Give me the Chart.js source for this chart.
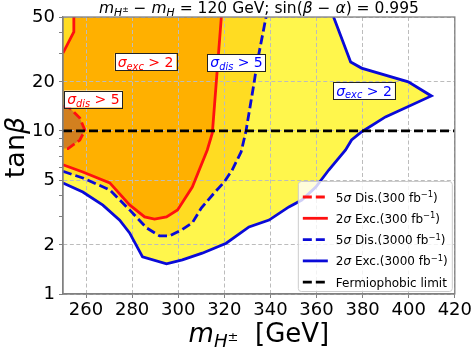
<!DOCTYPE html>
<html>
<head>
<meta charset="utf-8">
<script src="https://cdn.jsdelivr.net/npm/chart.js@4/dist/chart.umd.min.js"></script>
<style>
  html, body { margin: 0; padding: 0; background: #fff; }
  canvas { display: block; }
</style>
</head>
<body>
<canvas id="reach" width="474" height="347"></canvas>
<script>
// axis ranges and ticks
const xMin = 250, xMax = 420;
const yMin = 1, yMax = 50;
const xTickValues = [260, 280, 300, 320, 340, 360, 380, 400, 420];
const yTickValues = [1, 2, 5, 10, 20, 50];
const yMinorTickValues = [3, 4, 6, 7, 8, 9, 30, 40];

// contours as [m_H± (GeV), tanβ]
const dis300 = [[250, 14.2], [253, 13.8], [257.3, 12.0], [259.5, 10.1], [257.3, 8.8], [252.2, 7.8], [250, 7.8]];
const exc300Corner = [[254.7, 50], [254.7, 40.5], [250, 30.1]];
const exc300 = [[250, 6.2], [258.6, 5.6], [270.3, 4.8], [278.9, 3.52], [285.4, 2.97], [289.7, 2.88], [294.9, 2.97],
  [299.7, 3.28], [306.1, 4.53], [312.6, 7.65], [314.8, 9.72], [318.7, 50]];
const dis3000 = [[250, 5.65], [258.6, 5.15], [270.3, 4.35], [278.9, 3.28], [286.3, 2.54], [291.9, 2.27], [296.2, 2.27],
  [301.4, 2.47], [306.1, 2.73], [310, 3.37], [315.6, 4.16], [320, 4.87], [323.4, 5.76], [327.3, 7.44], [329.4, 10],
  [332.9, 19.7], [334.2, 26.1], [338.1, 50]];
const exc3000 = [[250, 4.8], [258.6, 4.22], [267.3, 3.51], [274.6, 2.84], [278.9, 2.37], [284.5, 1.69], [294.9, 1.53],
  [301.8, 1.62], [310.4, 1.78], [320.8, 2.05], [330.7, 2.58], [339.4, 2.84], [348, 3.42], [353.6, 3.77], [359.7, 4.53],
  [365.3, 5.76], [372.6, 7.65], [375.2, 8.81], [379.5, 9.86], [389.9, 12.2], [409.8, 16.4], [399.8, 20.0],
  [379.5, 24.3], [374.8, 26.5], [367.4, 50]];
const fermiophobicTanb = 10;

// region labels: [m_H±, tanβ, subscript, threshold, colour]
const regionLabels = [
  [263.2, 15.7, 'dis', '5', 'red'],
  [285.8, 26.5, 'exc', '2', 'red'],
  [325.3, 26.3, 'dis', '5', 'blue'],
  [380.6, 17.7, 'exc', '2', 'blue']
];

const FONT = '"DejaVu Sans", sans-serif';
const pts = arr => arr.map(([x, y]) => ({x, y}));

function lineSet(label, data, color, dash, order) {
  return {
    label, data: pts(data), borderColor: color, borderWidth: 2.8, borderDash: dash,
    fill: false, pointRadius: 0, order: order || 0
  };
}
function areaSet(data, color) {
  return {
    label: '', data: pts(data), borderWidth: 0, borderColor: 'rgba(0,0,0,0)',
    backgroundColor: color, fill: 'shape', pointRadius: 0
  };
}

const datasets = [
  lineSet('dis300', dis300, '#ff1010', [9, 4]),
  lineSet('exc300', exc300, '#ff1010', []),
  lineSet('dis3000', dis3000, '#0a0ad8', [9, 4]),
  lineSet('exc3000', exc3000, '#0a0ad8', []),
  lineSet('fermio', [[xMin, fermiophobicTanb], [xMax, fermiophobicTanb]], '#000000', [9, 4], -1),
  lineSet('', exc300Corner, '#ff1010', []),
  areaSet(dis300, '#d2801f'),
  areaSet([...exc300Corner, ...exc300], '#ffb000'),
  areaSet([[xMin, yMax], ...dis3000], '#ffdc22'),
  areaSet([[xMin, yMax], ...exc3000], '#fff64c')
];

const legendEntries = [
  ['dis300', '5', 'Dis.', '300'],
  ['exc300', '2', 'Exc.', '300'],
  ['dis3000', '5', 'Dis.', '3000'],
  ['exc3000', '2', 'Exc.', '3000'],
  ['fermio', null, 'Fermiophobic limit', null]
];

// draws a run of text pieces: {t, i: italic, s: size factor, dy: baseline shift in em}
function drawRich(ctx, parts, x, y, size, align, color) {
  const items = parts.map(p => {
    const font = (p.i ? 'italic ' : '') + (size * (p.s || 1)) + 'px ' + FONT;
    ctx.font = font;
    return {t: p.t, font, w: ctx.measureText(p.t).width, dy: (p.dy || 0) * size};
  });
  const total = items.reduce((a, b) => a + b.w, 0);
  let cx = align === 'center' ? x - total / 2 : (align === 'right' ? x - total : x);
  ctx.save();
  ctx.fillStyle = color;
  ctx.textAlign = 'left';
  ctx.textBaseline = 'alphabetic';
  for (const it of items) {
    ctx.font = it.font;
    ctx.fillText(it.t, cx, y + it.dy);
    cx += it.w;
  }
  ctx.restore();
  return total;
}
function richWidth(ctx, parts, size) {
  let w = 0;
  for (const p of parts) {
    ctx.font = (p.i ? 'italic ' : '') + (size * (p.s || 1)) + 'px ' + FONT;
    w += ctx.measureText(p.t).width;
  }
  return w;
}

const decorations = {
  id: 'decorations',
  afterDraw(chart) {
    const ctx = chart.ctx;
    const a = chart.chartArea;
    const xs = chart.scales.x, ys = chart.scales.y;

    // frame
    ctx.save();
    ctx.strokeStyle = '#808080';
    ctx.lineWidth = 1.3;
    ctx.strokeRect(a.left, a.top, a.right - a.left, a.bottom - a.top);
    ctx.restore();

    // region labels
    for (const [x, y, sub, thr, color] of regionLabels) {
      const parts = [{t: 'σ', i: 1}, {t: sub, i: 1, s: 0.7, dy: 0.2}, {t: ' > ' + thr}];
      const size = 14;
      const w = richWidth(ctx, parts, size);
      const px = xs.getPixelForValue(x), py = ys.getPixelForValue(y);
      ctx.save();
      ctx.fillStyle = '#fff';
      ctx.strokeStyle = '#222';
      ctx.lineWidth = 1;
      ctx.fillRect(px - w / 2 - 3, py - 8.5, w + 6, 17);
      ctx.strokeRect(Math.round(px - w / 2 - 3) + 0.5, Math.round(py - 8.5) + 0.5, Math.round(w + 6), 17);
      ctx.restore();
      drawRich(ctx, parts, px, py + 5, size, 'center', color);
    }

    // legend
    const lx = a.right - 157, ly = a.bottom - 113, lw = 154, lh = 110;
    ctx.save();
    ctx.fillStyle = 'rgba(255,255,255,0.8)';
    ctx.strokeStyle = '#cccccc';
    ctx.lineWidth = 1;
    ctx.beginPath();
    ctx.roundRect(lx + 0.5, ly + 0.5, lw, lh, 3);
    ctx.fill();
    ctx.stroke();
    ctx.restore();
    legendEntries.forEach(([key, n, kind, lum], i) => {
      const ds = chart.data.datasets.find(d => d.label === key);
      const cy = ly + 16 + i * 21.3;
      ctx.save();
      ctx.strokeStyle = ds.borderColor;
      ctx.lineWidth = ds.borderWidth;
      ctx.setLineDash(ds.borderDash);
      ctx.beginPath();
      ctx.moveTo(lx + 5, cy);
      ctx.lineTo(lx + 30, cy);
      ctx.stroke();
      ctx.restore();
      const parts = n === null ? [{t: kind}] :
        [{t: n}, {t: 'σ', i: 1}, {t: ' ' + kind + '(' + lum + ' fb'}, {t: '−1', s: 0.7, dy: -0.38}, {t: ')'}];
      drawRich(ctx, parts, lx + 38, cy + 4.5, 12, 'left', '#000');
    });

    // title
    drawRich(ctx, [
      {t: 'm', i: 1}, {t: 'H', i: 1, s: 0.7, dy: 0.18}, {t: '±', s: 0.5, dy: -0.05}, {t: ' − '},
      {t: 'm', i: 1}, {t: 'H', i: 1, s: 0.7, dy: 0.18}, {t: ' = 120 GeV; sin('}, {t: 'β', i: 1},
      {t: ' − '}, {t: 'α', i: 1}, {t: ') = 0.995'}
    ], (a.left + a.right) / 2, 13, 15.5, 'center', '#000');

    // axis titles
    drawRich(ctx, [
      {t: 'm', i: 1}, {t: 'H', i: 1, s: 0.7, dy: 0.18}, {t: '±', s: 0.5, dy: -0.05}, {t: '  [GeV]'}
    ], (a.left + a.right) / 2, 342, 26, 'center', '#000');
    ctx.save();
    ctx.translate(24, (a.top + a.bottom) / 2 - 8);
    ctx.rotate(-Math.PI / 2);
    drawRich(ctx, [{t: 'tan'}, {t: 'β', i: 1}], 0, 0, 27, 'center', '#000');
    ctx.restore();
  }
};

new Chart(document.getElementById('reach'), {
  type: 'line',
  data: { datasets },
  options: {
    responsive: false,
    animation: false,
    layout: { padding: { left: 0, top: 17, right: 17, bottom: 0 } },
    elements: { line: { tension: 0 }, point: { radius: 0 } },
    plugins: {
      legend: { display: false },
      tooltip: { enabled: false },
      filler: { drawTime: 'beforeDraw' }
    },
    scales: {
      x: {
        type: 'linear',
        min: xMin,
        max: xMax,
        afterBuildTicks: s => { s.ticks = xTickValues.map(v => ({value: v})); },
        afterFit: s => { s.height = 53; },
        grid: { color: '#bcbcbc', lineWidth: 1, tickColor: '#808080', tickLength: 4 },
        border: { color: '#808080', width: 1.3, dash: [4, 2.5] },
        ticks: { color: '#000', font: { family: FONT, size: 18 }, padding: 2, maxRotation: 0, autoSkip: false }
      },
      y: {
        type: 'logarithmic',
        min: yMin,
        max: yMax,
        afterBuildTicks: s => {
          s.ticks = [...yTickValues, ...yMinorTickValues].sort((p, q) => p - q).map(v => ({value: v}));
        },
        afterFit: s => { s.width = 63; },
        grid: {
          color: c => yTickValues.includes(c.tick.value) ? '#bcbcbc' : 'rgba(0,0,0,0)',
          lineWidth: 1,
          tickColor: '#808080',
          tickLength: 4
        },
        border: { color: '#808080', width: 1.3, dash: [4, 2.5] },
        ticks: {
          color: '#000',
          font: { family: FONT, size: 18 },
          padding: 4,
          autoSkip: false,
          callback: v => yTickValues.includes(v) ? String(v) : ''
        }
      }
    }
  },
  plugins: [decorations]
});
</script>
</body>
</html>
